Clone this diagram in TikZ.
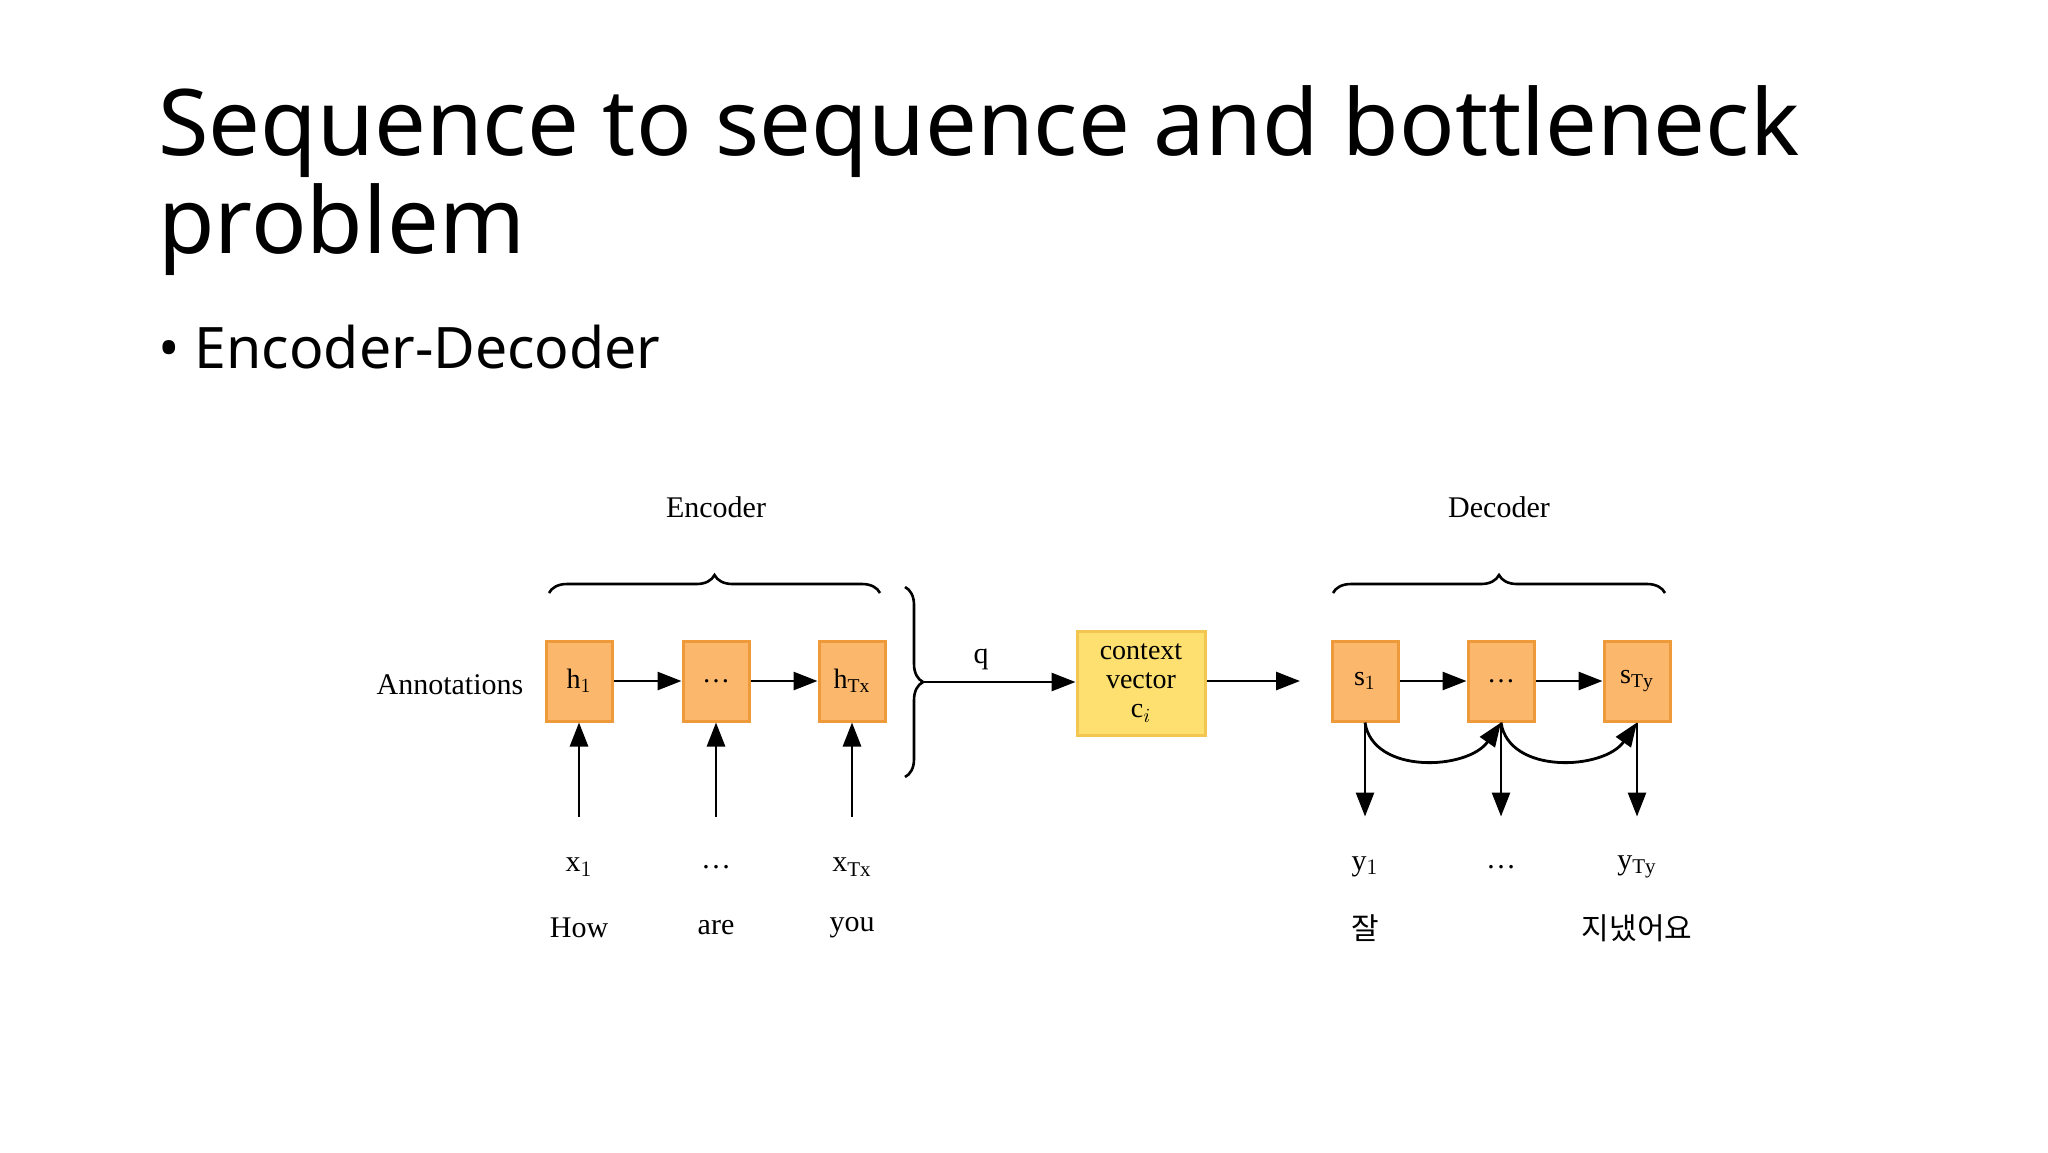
\documentclass[tikz,border=0pt]{standalone}
\usepackage{fontspec}
\setmainfont{Liberation Serif}
\newfontfamily\titlefont{Noto Sans}
\newfontfamily\cjk{Noto Sans CJK KR}
\usetikzlibrary{arrows.meta,decorations.pathreplacing}
\definecolor{boxfill}{HTML}{FBB76C}
\definecolor{boxdraw}{HTML}{EE9A3A}
\definecolor{ctxfill}{HTML}{FDE070}
\definecolor{ctxdraw}{HTML}{F2C650}
\begin{document}
\begin{tikzpicture}[x=0.5pt,y=-0.5pt,
  cell/.style={draw=boxdraw,fill=boxfill,line width=1.5pt,minimum width=33pt,minimum height=40pt,inner sep=0pt,font=\fontsize{14}{16}\selectfont},
  lab/.style={font=\fontsize{15}{17}\selectfont},
  arr/.style={-{Triangle[length=12pt,width=9pt]},line width=1.4pt},
  br/.style={decorate,decoration={brace,amplitude=9pt},line width=1.3pt}]
\useasboundingbox (0,0) rectangle (2048,1152);
\fill[white] (0,0) rectangle (2048,1152);
\node[anchor=base west,align=left,font=\titlefont\fontsize{46}{49}\selectfont,inner sep=0pt] (title) at (158,253) {Sequence to sequence and bottleneck\\problem};
\node[anchor=base west,font=\titlefont\fontsize{28.6}{32}\selectfont,inner sep=0pt] (bul) at (158,368) {\textbullet\ Encoder-Decoder};
% encoder
\node[cell] (h1) at (579,681) {h$_1$};
\node[cell] (hd) at (716,681) {\dots};
\node[cell] (hT) at (852,681) {h$_{\mathrm{Tx}}$};
\node[lab] (ann) at (450,685) {Annotations};
\node[lab] (enc) at (716,507) {Encoder};
\draw[arr] (h1) -- (hd); \draw[arr] (hd) -- (hT);
\node[lab] (x1) at (579,867) {x$_1$};
\node[lab] (xd) at (716,867) {\dots};
\node[lab] (xT) at (852,867) {x$_{\mathrm{Tx}}$};
\node[lab] (w1) at (579,928) {How};
\node[lab] (w2) at (716,928) {are};
\node[lab] (w3) at (852,928) {you};
\foreach \a in {1,d,T}{\coordinate (i\a) at ([yshift=-47pt]h\a.south); \draw[arr] (i\a) -- (h\a.south);}
\coordinate (eb1) at (549,593); \coordinate (eb2) at (880,593);
\draw[br] (eb1) -- (eb2);
\coordinate (bb1) at (905,587); \coordinate (bb2) at (905,777);
\draw[br] (bb1) -- (bb2) coordinate[midway,xshift=9pt] (btip);
\node[cell,draw=ctxdraw,fill=ctxfill,minimum width=64pt,minimum height=52pt,align=center,font=\fontsize{14}{14.5}\selectfont] (ctx) at (1141,683) {context\\vector\\c$_i$};
\draw[arr] (btip) -- (ctx.west|-btip);
\node[lab] (q) at (981,659) {q};
% decoder
\node[cell] (s1) at (1365,681) {s$_1$};
\node[cell] (sd) at (1501,681) {\dots};
\node[cell] (sT) at (1637,681) {s$_{\mathrm{Ty}}$};
\coordinate (ce) at (1300,681);
\draw[arr] (ctx.east|-ce) -- (ce);
\draw[arr] (s1) -- (sd); \draw[arr] (sd) -- (sT);
\node[lab] (dec) at (1499,507) {Decoder};
\coordinate (db1) at (1333,593); \coordinate (db2) at (1665,593);
\draw[br] (db1) -- (db2);
\foreach \a in {1,d,T}{\coordinate (o\a) at ([yshift=-47pt]s\a.south); \draw[arr] (s\a.south) -- (o\a);}
\draw[arr] (s1.south) .. controls (1373,775) and (1468,770) .. (sd.south);
\draw[arr] (sd.south) .. controls (1509,775) and (1604,770) .. (sT.south);
\node[lab] (y1) at (1365,867) {y$_1$};
\node[lab] (yd) at (1501,867) {\dots};
\node[lab] (yT) at (1637,867) {y$_{\mathrm{Ty}}$};
\node[font=\cjk\fontsize{15}{17}\selectfont] (k1) at (1365,928) {잘};
\node[font=\cjk\fontsize{15}{17}\selectfont] (k2) at (1637,928) {지냈어요};
\end{tikzpicture}
\end{document}
